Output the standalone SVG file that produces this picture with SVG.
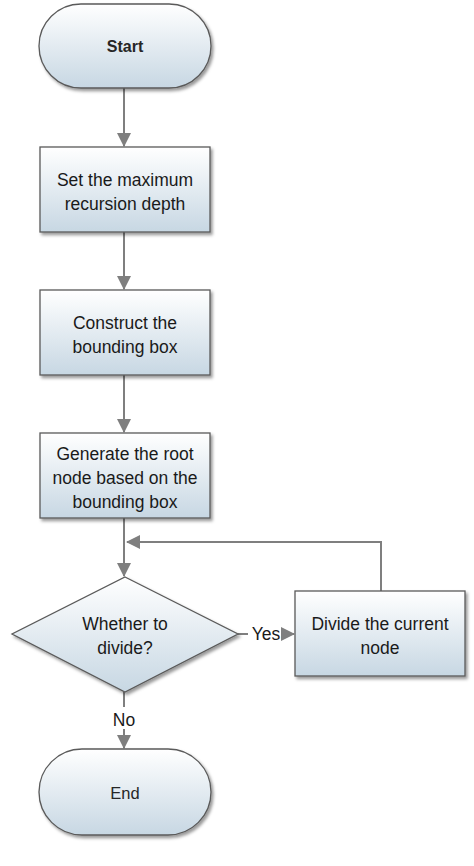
<svg xmlns="http://www.w3.org/2000/svg" width="474" height="866" viewBox="0 0 474 866">
<style>
.node{fill:url(#g);stroke:#5a5a5a;stroke-width:1.3;filter:url(#sh)}
.t{font-family:"Liberation Sans",Arial,sans-serif;font-size:17.5px;fill:#1a1a1a;text-anchor:middle}
.tb{font-family:"Liberation Sans",Arial,sans-serif;font-size:16px;font-weight:bold;fill:#262626;text-anchor:middle}
.te{font-family:"Liberation Sans",Arial,sans-serif;font-size:16.5px;fill:#262626;text-anchor:middle}
.c{fill:none;stroke:#7f7f7f;stroke-width:2}
</style>
<defs>
<linearGradient id="g" x1="0" y1="0" x2="0" y2="1">
<stop offset="0" stop-color="#ffffff"/>
<stop offset="1" stop-color="#c7d7e3"/>
</linearGradient>
<filter id="sh" x="-10%" y="-10%" width="125%" height="130%">
<feDropShadow dx="2" dy="2.5" stdDeviation="1.5" flood-color="#000" flood-opacity="0.4"/>
</filter>
<marker id="a" markerWidth="10" markerHeight="10" refX="8" refY="5" orient="auto" markerUnits="userSpaceOnUse" viewBox="0 0 10 10">
<path d="M0,0 L10,5 L0,10 z" fill="#7f7f7f"/>
</marker>
<marker id="ab" markerWidth="14" markerHeight="14" refX="13" refY="7" orient="auto" markerUnits="userSpaceOnUse" viewBox="0 0 14 14">
<path d="M0,0 L14,7 L0,14 z" fill="#7f7f7f"/>
</marker>
</defs>
<g id="connectors">
<line class="c" x1="124" y1="88" x2="124" y2="146" marker-end="url(#ab)"/>
<line class="c" x1="124" y1="232" x2="124" y2="289" marker-end="url(#ab)"/>
<line class="c" x1="124" y1="375" x2="124" y2="432" marker-end="url(#ab)"/>
<line class="c" x1="124" y1="518" x2="124" y2="576" marker-end="url(#ab)"/>
<polyline class="c" points="381,591 381,542 127,542" marker-end="url(#ab)"/>
<line class="c" x1="238" y1="634" x2="248" y2="634"/>
<line class="c" x1="282" y1="634" x2="294" y2="634" marker-end="url(#ab)"/>
<line class="c" x1="124" y1="692" x2="124" y2="707"/>
<line class="c" x1="124" y1="729" x2="124" y2="748" marker-end="url(#ab)"/>
<text class="t" x="266" y="640">Yes</text>
<text class="t" x="124" y="726">No</text>
</g>
<g id="start">
<rect class="node" x="39" y="4" width="172" height="84" rx="42" ry="42"/>
<text class="tb" x="125" y="52">Start</text>
</g>
<g id="set-depth">
<rect class="node" x="40" y="147" width="170" height="85"/>
<text class="t" x="125" y="186">Set the maximum</text>
<text class="t" x="125" y="210">recursion depth</text>
</g>
<g id="bbox">
<rect class="node" x="40" y="290" width="170" height="85"/>
<text class="t" x="125" y="329">Construct the</text>
<text class="t" x="125" y="353">bounding box</text>
</g>
<g id="root">
<rect class="node" x="40" y="433" width="170" height="85"/>
<text class="t" x="125" y="460">Generate the root</text>
<text class="t" x="125" y="484">node based on the</text>
<text class="t" x="125" y="508">bounding box</text>
</g>
<g id="decision">
<polygon class="node" points="125,577 238,634 125,692 12,634"/>
<text class="t" x="125" y="630">Whether to</text>
<text class="t" x="125" y="654">divide?</text>
</g>
<g id="divide">
<rect class="node" x="295" y="591" width="170" height="85"/>
<text class="t" x="380" y="630">Divide the current</text>
<text class="t" x="380" y="654">node</text>
</g>
<g id="end">
<rect class="node" x="39" y="749" width="172" height="86" rx="43" ry="43"/>
<text class="te" x="125" y="799">End</text>
</g>
</svg>
